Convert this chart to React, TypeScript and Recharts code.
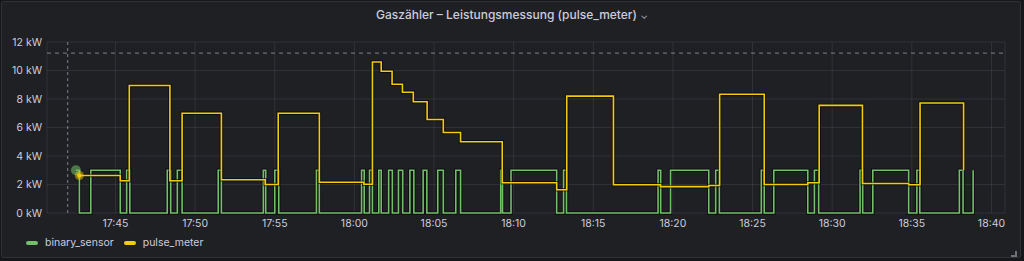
import { LineChart, Line, XAxis, YAxis, CartesianGrid, ReferenceLine, ReferenceDot, Legend } from 'recharts';

// binary_sensor: on/off state scaled to 3 kW, step changes
const BINARY_TIMES = [
  '17:42:31', '17:42:44', '17:43:27', '17:45:18', '17:45:42', '17:45:54', '17:48:15', '17:48:28',
  '17:48:53', '17:49:11', '17:51:27', '17:51:39', '17:54:17', '17:54:26', '17:55:00', '17:55:15',
  '17:57:37', '17:57:48', '18:00:27', '18:00:37', '18:00:57', '18:01:08', '18:01:32', '18:01:41',
  '18:02:09', '18:02:23', '18:02:46', '18:03:02', '18:03:29', '18:03:44', '18:04:19', '18:04:33',
  '18:05:14', '18:05:35', '18:06:22', '18:06:40', '18:09:11', '18:09:18', '18:09:50', '18:12:42',
  '18:13:08', '18:13:19', '18:19:04', '18:19:14', '18:19:51', '18:22:15', '18:22:41', '18:22:55',
  '18:25:33', '18:25:44', '18:26:20', '18:28:28', '18:28:53', '18:29:09', '18:31:45', '18:31:55',
  '18:32:33', '18:34:48', '18:35:19', '18:35:30', '18:37:59', '18:38:13', '18:38:51'
];
const BINARY_VALUES = [
  3, 0, 3, 0, 3, 0, 3, 0,
  3, 0, 3, 0, 3, 0, 3, 0,
  3, 0, 3, 0, 3, 0, 3, 0,
  3, 0, 3, 0, 3, 0, 3, 0,
  3, 0, 3, 0, 3, 0, 3, 0,
  3, 0, 3, 0, 3, 0, 3, 0,
  3, 0, 3, 0, 3, 0, 3, 0,
  3, 0, 3, 0, 3, 0, 3
];

// pulse_meter: measured power in kW
const PULSE_TIMES = [
  '17:42:44', '17:45:18', '17:45:52', '17:48:25', '17:49:11', '17:51:39', '17:54:24', '17:55:13',
  '17:57:48', '18:00:36', '18:01:08', '18:01:41', '18:02:22', '18:03:01', '18:03:42', '18:04:34',
  '18:05:35', '18:06:40', '18:09:17', '18:12:42', '18:13:20', '18:16:16', '18:19:13', '18:22:15',
  '18:22:56', '18:25:44', '18:28:28', '18:29:11', '18:31:54', '18:34:48', '18:35:31', '18:38:15'
];
const PULSE_VALUES = [
  2.63, 2.26, 8.95, 2.26, 7.0, 2.33, 2.0, 7.0,
  2.16, 2.02, 10.6, 9.95, 9.03, 8.47, 7.81, 6.56,
  5.65, 5.0, 2.12, 1.63, 8.2, 1.98, 1.85, 1.93,
  8.33, 2.0, 2.12, 7.55, 2.07, 1.98, 7.72, 3.0
];

const TIME_TICKS = ['17:45', '17:50', '17:55', '18:00', '18:05', '18:10', '18:15', '18:20', '18:25', '18:30', '18:35', '18:40'];
const KW_TICKS = [0, 2, 4, 6, 8, 10, 12];
const TIME_RANGE = ['17:40:42', '18:40:51'];
const THRESHOLD_KW = 11.22;
const MARKER_TIME = '17:42:00';

const GREEN = '#73bf69';
const YELLOW = '#f2cc0c';
const TEXT = '#ccccdc';
const FONT = 'Inter, "Noto Sans", sans-serif';

const toMin = (s: string) => {
  const [h, m, sec = 0] = s.split(':').map(Number);
  return h * 60 + m + sec / 60;
};

const fmtTime = (v: number) => {
  const h = Math.floor(v / 60);
  const m = Math.round(v - h * 60);
  return `${h}:${String(m).padStart(2, '0')}`;
};

const binaryData = BINARY_TIMES.map((t, i) => ({ t: toMin(t), v: BINARY_VALUES[i] }));
const pulseData = PULSE_TIMES.map((t, i) => ({ t: toMin(t), v: PULSE_VALUES[i] }));

function LegendRow() {
  const items = [
    { name: 'binary_sensor', color: GREEN },
    { name: 'pulse_meter', color: YELLOW }
  ];
  return (
    <div style={{ display: 'flex', alignItems: 'center', gap: 10, fontFamily: FONT, fontSize: 10.5, color: TEXT }}>
      {items.map((it) => (
        <div key={it.name} style={{ display: 'flex', alignItems: 'center', gap: 7 }}>
          <span style={{ width: 12, height: 4, borderRadius: 2, background: it.color, display: 'inline-block' }} />
          <span>{it.name}</span>
        </div>
      ))}
    </div>
  );
}

export default function App() {
  return (
    <div style={{ position: 'absolute', left: 0, top: 0, width: 1024, height: 261, background: '#16171a', overflow: 'hidden' }}>
      <div
        style={{
          position: 'absolute', left: 1, top: 1, width: 1018, height: 255,
          background: '#1f2024', border: '1px solid rgba(204,204,220,0.10)', borderRadius: 3
        }}
      />
      <div
        style={{
          position: 'absolute', left: 0, top: 7, width: 1024, textAlign: 'center',
          fontFamily: FONT, fontSize: 12, fontWeight: 500, color: TEXT
        }}
      >
        Gaszähler – Leistungsmessung (pulse_meter) <span style={{ fontSize: 10, color: '#9fa1aa' }}>⌄</span>
      </div>
      <div
        style={{
          position: 'absolute', left: 1011, top: 251, width: 4, height: 4,
          borderRight: '2px solid #6e7079', borderBottom: '2px solid #6e7079'
        }}
      />
      <div style={{ position: 'absolute', left: 0, top: 0 }}>
        <LineChart width={1024} height={261} margin={{ top: 42, right: 19, left: 0, bottom: 14 }}>
          <CartesianGrid stroke="rgba(204,204,220,0.10)" strokeWidth={1} />
          <XAxis
            dataKey="t"
            type="number"
            domain={TIME_RANGE.map(toMin)}
            ticks={TIME_TICKS.map(toMin)}
            tickFormatter={fmtTime}
            allowDataOverflow
            axisLine={false}
            tickLine={false}
            tickSize={4}
            tickMargin={3}
            height={20}
            tick={{ fill: TEXT, fontSize: 10.5, fontFamily: FONT }}
          />
          <YAxis
            type="number"
            domain={[0, 12]}
            ticks={KW_TICKS}
            tickFormatter={(v: number) => `${v} kW`}
            axisLine={false}
            tickLine={false}
            tickSize={0}
            tickMargin={5}
            width={47}
            tick={{ fill: TEXT, fontSize: 10.5, fontFamily: FONT }}
          />
          <ReferenceLine y={THRESHOLD_KW} stroke="rgba(204,204,220,0.55)" strokeDasharray="4 4" />
          <ReferenceLine x={toMin(MARKER_TIME)} stroke="rgba(204,204,220,0.55)" strokeDasharray="3 3" />
          <Line data={binaryData} dataKey="v" type="stepAfter" stroke="rgba(0,0,0,0.55)" strokeWidth={3.5} dot={false} isAnimationActive={false} legendType="none" />
          <Line data={binaryData} dataKey="v" name="binary_sensor" type="stepAfter" stroke={GREEN} strokeWidth={1.6} dot={false} isAnimationActive={false} />
          <Line data={pulseData} dataKey="v" type="stepAfter" stroke="rgba(0,0,0,0.55)" strokeWidth={3.5} dot={false} isAnimationActive={false} legendType="none" />
          <Line data={pulseData} dataKey="v" name="pulse_meter" type="stepAfter" stroke={YELLOW} strokeWidth={1.6} dot={false} isAnimationActive={false} />
          <ReferenceDot x={binaryData[0].t} y={binaryData[0].v} r={5} fill={GREEN} fillOpacity={0.55} stroke="none" />
          <ReferenceDot x={pulseData[0].t} y={pulseData[0].v} r={4.5} fill={YELLOW} fillOpacity={0.5} stroke="none" />
          <ReferenceDot x={pulseData[0].t} y={pulseData[0].v} r={2.2} fill={YELLOW} stroke="none" />
          <Legend
            content={() => <LegendRow />}
            wrapperStyle={{ position: 'absolute', left: 26, top: 236, width: 'auto', height: 14 }}
          />
        </LineChart>
      </div>
    </div>
  );
}
